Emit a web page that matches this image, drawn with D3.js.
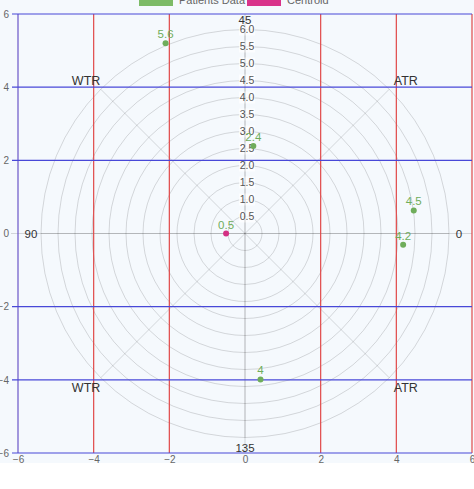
<!DOCTYPE html>
<html>
<head>
<meta charset="utf-8">
<script src="https://cdnjs.cloudflare.com/ajax/libs/d3/7.8.5/d3.min.js"></script>
<style>
  html, body { margin: 0; padding: 0; background: #fff; }
  svg { display: block; font-family: "Liberation Sans", Arial, sans-serif; }
</style>
</head>
<body>
<div id="chart"></div>
<script>
// patients (cartesian position of each measurement)
const patientX = [-2.1, 0.22, 4.46, 4.18, 0.41];
const patientY = [5.2, 2.39, 0.63, -0.31, -3.99];
const patientLabels = ['5.6', '2.4', '4.5', '4.2', '4'];

const centroidX = [-0.5];
const centroidY = [0];
const centroidLabels = ['0.5'];

const axisTicks = [-6, -4, -2, 0, 2, 4, 6];
const radialTicks = [0.5, 1, 1.5, 2, 2.5, 3, 3.5, 4, 4.5, 5, 5.5, 6];
const angleLabels = ['0', '', '45', '', '90', '', '135', ''];
const zoneLabels = [
  { text: 'WTR', x: -4.2, y: 4, pos: 'above' },
  { text: 'ATR', x: 4.25, y: 4, pos: 'above' },
  { text: 'WTR', x: -4.2, y: -4, pos: 'below' },
  { text: 'ATR', x: 4.25, y: -4, pos: 'below' }
];
const legendItems = [
  { name: 'Patients Data', color: '#7dbb67' },
  { name: 'Centroid', color: '#d9338a' }
];

const W = 474, H = 489;
const green = '#6fad5b', pink = '#d42f83';
const red = '#e04848', blue = '#4848d8';

const svg = d3.select('#chart').append('svg').attr('width', W).attr('height', H);

svg.append('rect').attr('width', W).attr('height', 463).attr('fill', '#f5f9fd');

const x = d3.scaleLinear().domain([-6, 6]).range([18, 472]);
const y = d3.scaleLinear().domain([-6, 6]).range([453, 14]);
const r = d3.scaleLinear().domain([0, 6]).range([0, 204]);
const cx = x(0), cy = y(0);

// polar grid
const polar = svg.append('g').attr('transform', `translate(${cx},${cy})`);
polar.selectAll('circle').data(radialTicks).join('circle')
  .attr('r', d => r(d)).attr('fill', 'none')
  .attr('stroke', '#000').attr('stroke-opacity', 0.14);
polar.selectAll('line.spoke').data(angleLabels).join('line')
  .attr('class', 'spoke')
  .attr('x2', (d, i) => r(6) * Math.cos(-i * Math.PI / 4))
  .attr('y2', (d, i) => r(6) * Math.sin(-i * Math.PI / 4))
  .attr('stroke', '#000').attr('stroke-opacity', 0.14);

// zero lines
svg.append('line').attr('x1', 11).attr('x2', x(6)).attr('y1', cy).attr('y2', cy)
  .attr('stroke', '#000').attr('stroke-opacity', 0.14);
svg.append('line').attr('x1', cx).attr('x2', cx).attr('y1', y(6)).attr('y2', y(-6))
  .attr('stroke', '#000').attr('stroke-opacity', 0.14);

// radial tick labels with backdrop
const rt = polar.selectAll('g.rtick').data(radialTicks).join('g')
  .attr('class', 'rtick').attr('transform', d => `translate(2,${-r(d)})`);
rt.append('rect').attr('x', -8).attr('y', -6).attr('width', 16).attr('height', 12)
  .attr('fill', '#fff').attr('fill-opacity', 0.7);
rt.append('text').text(d => d.toFixed(1))
  .attr('text-anchor', 'middle').attr('dy', '0.35em')
  .attr('font-size', 10.5).attr('fill', '#555');

// angle labels
polar.selectAll('text.angle').data(angleLabels).join('text')
  .attr('class', 'angle')
  .attr('x', (d, i) => 214 * Math.cos(-i * Math.PI / 4))
  .attr('y', (d, i) => 214 * Math.sin(-i * Math.PI / 4))
  .attr('text-anchor', 'middle').attr('dy', '0.35em')
  .attr('font-size', 11.5).attr('fill', '#333')
  .text(d => d);

// cartesian grid
const gridX = axisTicks.filter(d => d !== 0);
svg.selectAll('line.gx').data(gridX).join('line')
  .attr('class', 'gx')
  .attr('x1', d => x(d)).attr('x2', d => x(d))
  .attr('y1', y(6)).attr('y2', y(-6))
  .attr('stroke', d => d === -6 ? '#6a55c8' : red).attr('stroke-width', 1.2);
svg.selectAll('line.gy').data(gridX).join('line')
  .attr('class', 'gy')
  .attr('x1', 12).attr('x2', x(6))
  .attr('y1', d => y(d)).attr('y2', d => y(d))
  .attr('stroke', blue).attr('stroke-width', 1.2);

// axes
const yAxis = svg.append('g').attr('transform', `translate(${x(-6)},0)`)
  .call(d3.axisLeft(y).tickValues(axisTicks).tickSize(0).tickPadding(9));
const xAxis = svg.append('g').attr('transform', `translate(0,${y(-6)})`)
  .call(d3.axisBottom(x).tickValues(axisTicks).tickSize(0).tickPadding(3));
[yAxis, xAxis].forEach(a => {
  a.select('.domain').remove();
  a.selectAll('text').attr('font-size', 10).attr('fill', '#666')
    .attr('font-family', '"Liberation Sans", Arial, sans-serif');
});

// zone labels
svg.selectAll('text.zone').data(zoneLabels).join('text')
  .attr('class', 'zone')
  .attr('x', d => x(d.x))
  .attr('y', d => d.pos === 'above' ? y(d.y) - 2 : y(d.y) + 12)
  .attr('text-anchor', 'middle').attr('font-size', 12.5).attr('fill', '#333')
  .text(d => d.text);

// points
function drawPoints(xs, ys, labels, color) {
  const g = svg.append('g');
  g.selectAll('circle').data(xs).join('circle')
    .attr('cx', d => x(d)).attr('cy', (d, i) => y(ys[i]))
    .attr('r', 3).attr('fill', color);
  g.selectAll('text').data(labels).join('text')
    .attr('x', (d, i) => x(xs[i])).attr('y', (d, i) => y(ys[i]) - 5)
    .attr('text-anchor', 'middle').attr('font-size', 11.5).attr('fill', green)
    .text(d => d);
}
drawPoints(patientX, patientY, patientLabels, green);
drawPoints(centroidX, centroidY, centroidLabels, pink);

// legend (partly above the visible area)
const legendX = [139, 247];
const lg = svg.selectAll('g.legend').data(legendItems).join('g')
  .attr('class', 'legend').attr('transform', (d, i) => `translate(${legendX[i]},0)`);
lg.append('rect').attr('y', -7).attr('width', 34).attr('height', 13).attr('fill', d => d.color);
lg.append('text').attr('x', 40).attr('y', 4).attr('font-size', 11).attr('fill', '#666')
  .text(d => d.name);
</script>
</body>
</html>
